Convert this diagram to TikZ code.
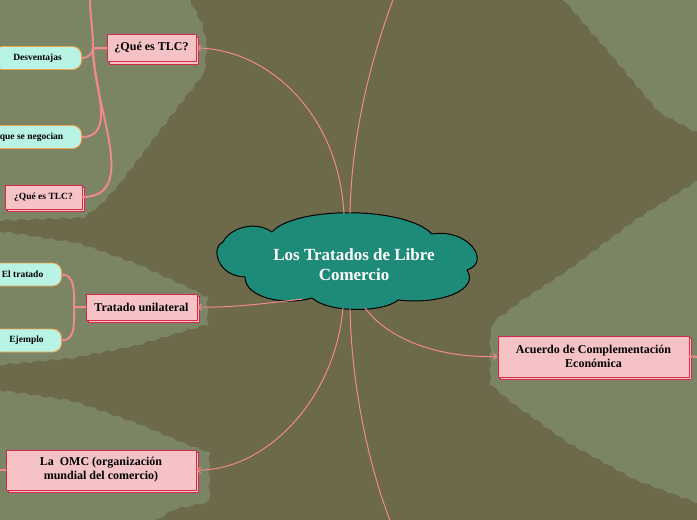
\documentclass[tikz,border=0pt]{standalone}
\usepackage{fontspec}
\setmainfont{Liberation Serif}
\usetikzlibrary{arrows.meta,shadows,decorations.pathmorphing}
\definecolor{fondo}{HTML}{6D6A4B}
\definecolor{zona}{HTML}{7B8464}
\definecolor{nube}{HTML}{1E8A78}
\definecolor{rosa}{HTML}{F5C3C6}
\definecolor{borde}{HTML}{D42A4A}
\definecolor{enlace}{HTML}{F08A8A}
\definecolor{agua}{HTML}{B9F3E6}
\definecolor{naranja}{HTML}{F0A44A}
\tikzset{
  zonaclara/.style={fill=zona,decorate,decoration={snake,amplitude=1pt,segment length=14pt}},
  tema/.style={draw=borde,fill=rosa,line width=0.9pt,align=center,inner sep=3pt,
    font=\bfseries\fontsize{12}{14}\selectfont,
    copy shadow={shadow xshift=2.5pt,shadow yshift=-2.5pt}},
  subtema/.style={draw=naranja,fill=agua,line width=0.9pt,rounded corners=9pt,
    minimum height=23pt,inner sep=2pt,font=\bfseries\fontsize{9.5}{11}\selectfont},
  enlace/.style={draw=enlace,line width=1pt},
  flecha/.style={enlace,-{Straight Barb[length=3.5pt,width=6pt]}},
  rama/.style={draw=enlace,line width=2pt,line cap=round}
}

\begin{document}
\begin{tikzpicture}[line cap=round,line join=round,x=1pt,y=-1pt]
\useasboundingbox (0,0) rectangle (697,520);
\clip (0,0) rectangle (697,520);
\fill[fondo] (0,0) rectangle (697,520);
% zonas claras
\path[zonaclara] (-8,-8) -- (183,-8) -- (197,20) -- (203,45) -- (201,70) -- (157,127) -- (117,180) -- (97,202) -- (80,215) -- (-8,218) -- cycle;
\path[zonaclara] (-8,230) -- (77,243) -- (133,263) -- (187,288) -- (204,297) -- (204,326) -- (187,331) -- (133,347) -- (67,360) -- (-8,367) -- cycle;
\path[zonaclara] (-8,389) -- (67,400) -- (133,423) -- (187,446) -- (204,452) -- (204,500) -- (167,508) -- (133,528) -- (-8,528) -- cycle;
\path[zonaclara] (557,-8) -- (607,50) -- (657,110) -- (705,135) -- (705,-8) -- cycle;
\path[zonaclara] (705,176) -- (640,217) -- (573,267) -- (523,300) -- (496,320) -- (493,332) -- (493,383) -- (513,400) -- (573,443) -- (640,480) -- (705,504) -- cycle;

% nube central
\draw[fill=nube,line width=1pt] (223,242) .. controls (230,228) and (255,220) .. (272,232)
  .. controls (295,206) and (405,206) .. (432,234)
  .. controls (468,228) and (492,262) .. (467,270)
  .. controls (480,290) and (440,305) .. (398,300)
  .. controls (385,312) and (330,314) .. (312,298)
  .. controls (285,306) and (245,298) .. (245,277)
  .. controls (216,276) and (211,246) .. cycle;
\node[text=white,align=center,font=\bfseries\fontsize{17}{20}\selectfont] (raiz) at (354,265) {Los Tratados de Libre\\Comercio};

% nodos
\node[tema,minimum width=89pt,minimum height=27pt] (qtlc) at (151.5,48) {¿Qué es TLC?};
\node[tema,minimum width=111pt,minimum height=26pt] (unil) at (141.5,307) {Tratado unilateral};
\node[tema,minimum width=190pt,minimum height=40pt] (omc) at (101,470) {La\ \ OMC (organización\\mundial del comercio)};
\node[tema,minimum width=191pt,minimum height=41pt] (acuerdo) at (593.5,356.5) {Acuerdo de Complementación\\Económica};
\node[tema,minimum width=77pt,minimum height=24pt,font=\bfseries\fontsize{9.5}{11}\selectfont] (qtlcb) at (43.5,197) {¿Qué es TLC?};
\node[subtema,minimum width=88pt,anchor=east] (desv) at (82,58) {Desventajas};
\node[subtema,minimum width=100pt,anchor=east] (negoc) at (82,137) {que se negocian};
\node[subtema,minimum width=78pt,anchor=east] (tratado) at (62,274.5) {El tratado};
\node[subtema,minimum width=70pt,anchor=east] (ejemplo) at (62,340.5) {Ejemplo};
\coordinate (arriba) at (394,-3);
\coordinate (abajo) at (391,523);
\coordinate (arriba2) at (90,-3);
\coordinate (izq) at (-5,470);
\coordinate (der) at (702,357);

% conectores
\draw[enlace] ([xshift=-4pt,yshift=52pt]raiz.center) .. controls (352,120) and (378,40) .. (arriba);
\draw[flecha] ([xshift=-10pt,yshift=51.5pt]raiz.center) .. controls (338,110) and (265,49) .. (qtlc.east);
\draw[flecha] ([xshift=-52pt,yshift=-34pt]raiz.center) .. controls (270,303) and (230,308) .. (unil.east);
\draw[flecha] ([xshift=-11pt,yshift=-43pt]raiz.center) .. controls (335,400) and (265,471) .. (omc.east);
\draw[enlace] ([xshift=-4pt,yshift=-44pt]raiz.center) .. controls (352,400) and (374,480) .. (abajo);
\draw[flecha] ([xshift=11pt,yshift=-43pt]raiz.center) .. controls (385,335) and (430,358) .. (acuerdo.west);
\draw[rama] (qtlc.west) -- (93,48) to[out=90,in=-90] (arriba2);
\draw[rama] (qtlc.west) -- (93,48) to[out=-90,in=0] (desv.east);
\draw[rama] (qtlc.west) -- (93,48) to[out=-90,in=0] (negoc.east);
\draw[rama] (qtlc.west) -- (93,48) to[out=-90,in=0] (qtlcb.east);
\draw[rama] (unil.west) -- (74,307) to[out=90,in=0] (tratado.east);
\draw[rama] (unil.west) -- (74,307) to[out=-90,in=0] (ejemplo.east);
\draw[rama] (omc.west) -- (izq);
\draw[rama] (acuerdo.east) -- (der);
\end{tikzpicture}
\end{document}
